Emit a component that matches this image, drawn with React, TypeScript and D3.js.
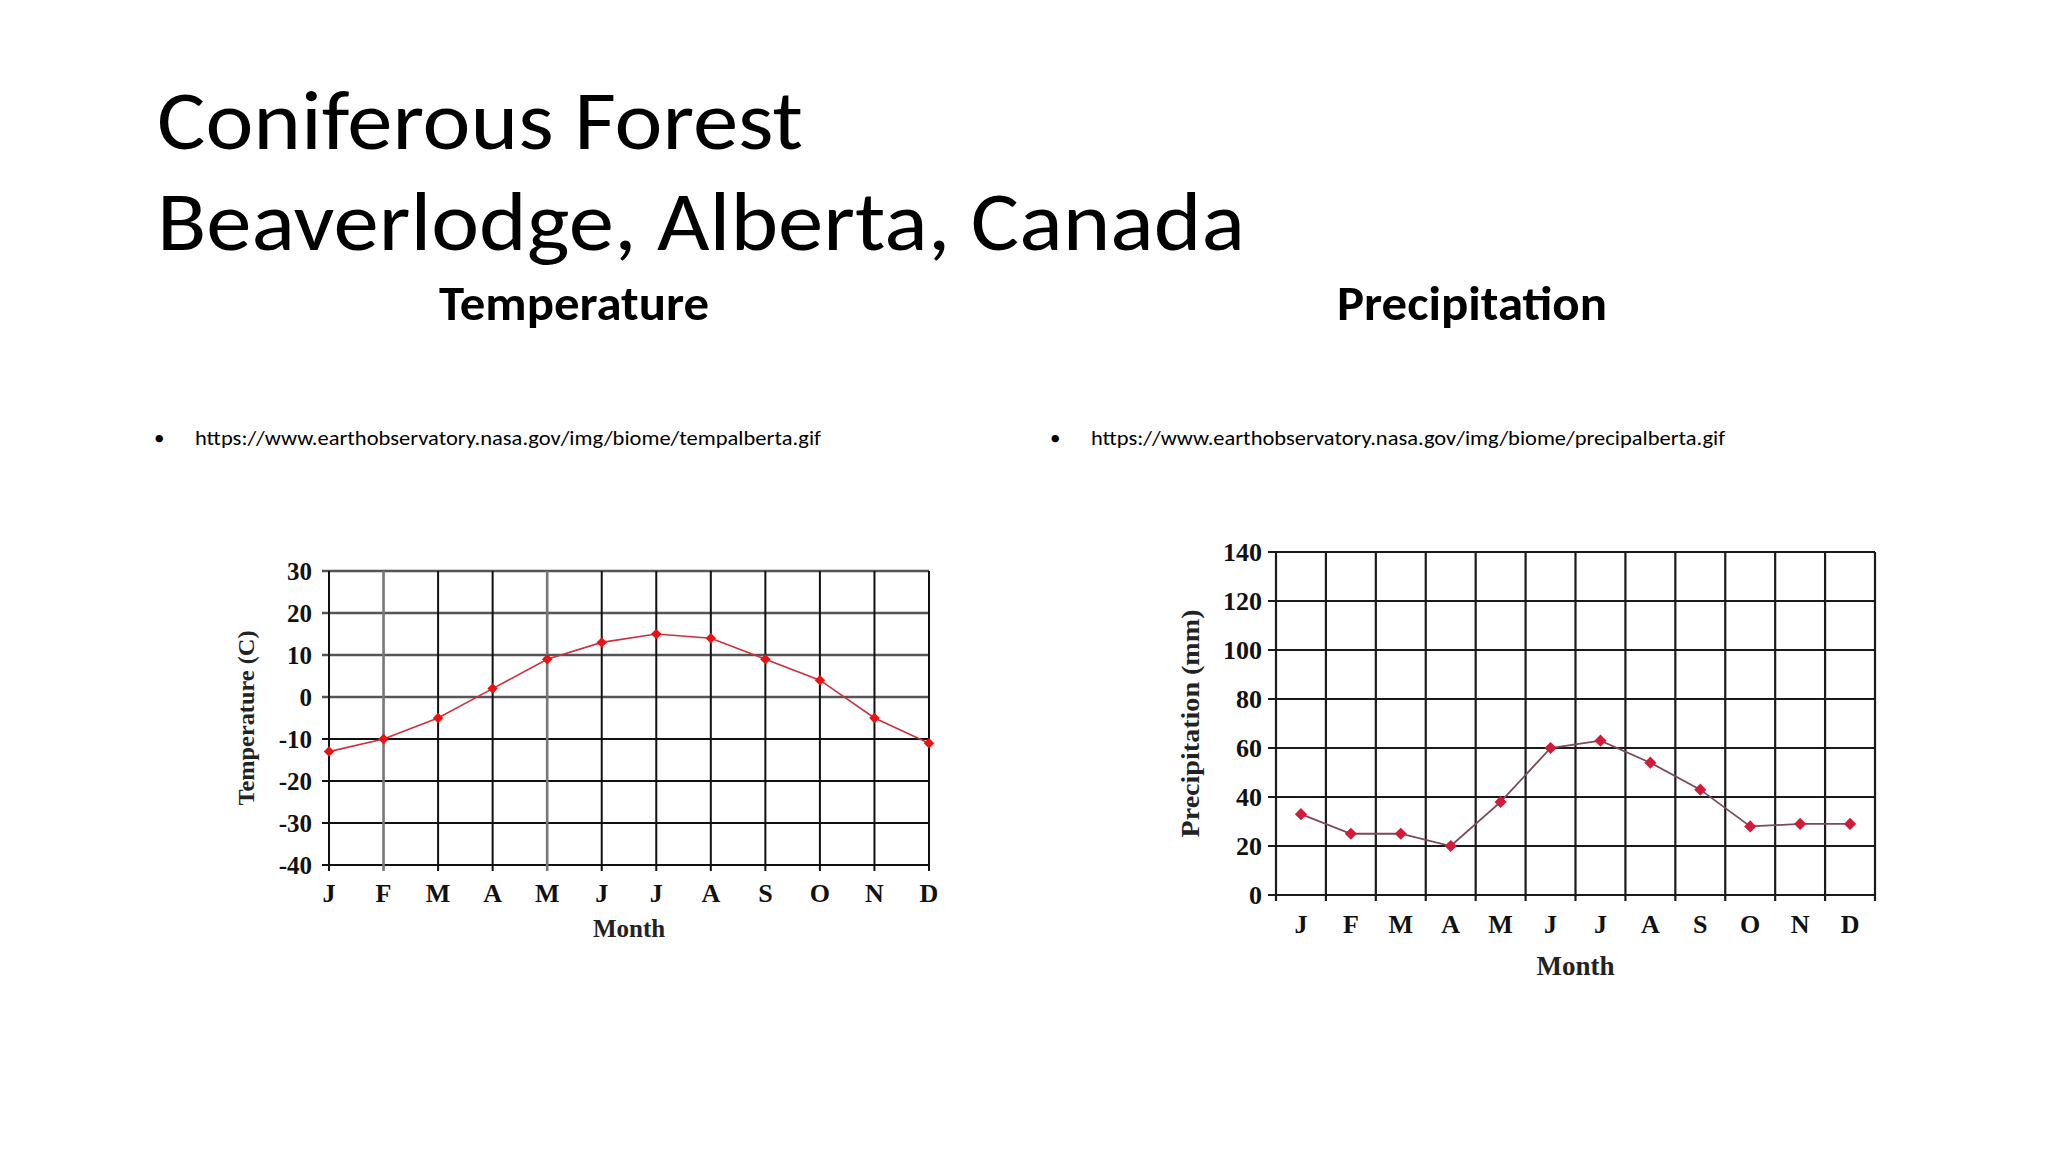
import React from "react";
import * as d3 from "d3";

const months = ["J", "F", "M", "A", "M", "J", "J", "A", "S", "O", "N", "D"];
const temperature = [-13, -10, -5, 2, 9, 13, 15, 14, 9, 4, -5, -11];
const precipitation = [33, 25, 25, 20, 38, 60, 63, 54, 43, 28, 29, 29];
const tempTicks = [30, 20, 10, 0, -10, -20, -30, -40];
const precipTicks = [140, 120, 100, 80, 60, 40, 20, 0];

const titleLines = ["Coniferous Forest", "Beaverlodge, Alberta, Canada"];
const subTitles = ["Temperature", "Precipitation"];
const urls = [
  "https://www.earthobservatory.nasa.gov/img/biome/tempalberta.gif",
  "https://www.earthobservatory.nasa.gov/img/biome/precipalberta.gif",
];

const W = 2048;
const H = 1152;
const serif = "'Liberation Serif', 'Times New Roman', serif";
const sans = "Carlito, Calibri, 'Open Sans', 'Noto Sans', sans-serif";

function TempChart() {
  const x = d3.scalePoint<number>().domain(d3.range(12)).range([329, 929]);
  const y = d3.scaleLinear().domain([-40, 30]).range([865, 571]);
  const line = d3
    .line<number>()
    .x((_, i) => x(i) as number)
    .y((d) => y(d));
  const marker = d3.symbol().type(d3.symbolDiamond2).size(70)();
  const [x0, x1] = x.range();
  return (
    <g>
      {tempTicks.map((t) => (
        <g key={"h" + t}>
          <line
            x1={x0 - 7}
            x2={x1}
            y1={y(t)}
            y2={y(t)}
            stroke={t >= 0 ? "#555" : "#111"}
            strokeWidth={t >= 0 ? 2.6 : 2}
          />
          <text
            x={312}
            y={y(t) + 9}
            textAnchor="end"
            fontFamily={serif}
            fontWeight="bold"
            fontSize={25}
            fill="#111"
          >
            {t}
          </text>
        </g>
      ))}
      {months.map((m, i) => (
        <g key={"v" + i}>
          <line
            x1={x(i)}
            x2={x(i)}
            y1={y(30)}
            y2={y(-40) + 6}
            stroke={i === 1 || i === 4 ? "#777" : "#111"}
            strokeWidth={i === 1 || i === 4 ? 2.6 : 2}
          />
          <text
            x={x(i)}
            y={902}
            textAnchor="middle"
            fontFamily={serif}
            fontWeight="bold"
            fontSize={26}
            fill="#111"
          >
            {m}
          </text>
        </g>
      ))}
      <path d={line(temperature) || ""} fill="none" stroke="#cc3040" strokeWidth={1.6} />
      {temperature.map((v, i) => (
        <path key={"p" + i} d={marker || ""} transform={`translate(${x(i)},${y(v)})`} fill="#ee1111" />
      ))}
      <text
        x={(x0 + x1) / 2}
        y={937}
        textAnchor="middle"
        fontFamily={serif}
        fontWeight="bold"
        fontSize={25}
        fill="#222"
      >
        Month
      </text>
      <text
        transform={`translate(254,${(y(30) + y(-40)) / 2}) rotate(-90)`}
        textAnchor="middle"
        fontFamily={serif}
        fontWeight="bold"
        fontSize={24}
        fill="#222"
        textLength={175}
        lengthAdjust="spacingAndGlyphs"
      >
        Temperature (C)
      </text>
    </g>
  );
}

function PrecipChart() {
  const x = d3.scaleBand<number>().domain(d3.range(12)).range([1276, 1875]);
  const y = d3.scaleLinear().domain([0, 140]).range([895, 552]);
  const cx = (i: number) => (x(i) as number) + x.bandwidth() / 2;
  const line = d3
    .line<number>()
    .x((_, i) => cx(i))
    .y((d) => y(d));
  const marker = d3.symbol().type(d3.symbolDiamond2).size(95)();
  const [x0, x1] = x.range();
  const edges = d3.range(13).map((i) => x0 + i * x.step());
  return (
    <g>
      {precipTicks.map((t) => (
        <g key={"h" + t}>
          <line x1={x0 - 8} x2={x1} y1={y(t)} y2={y(t)} stroke="#1a1a1a" strokeWidth={2.2} />
          <text
            x={1262}
            y={y(t) + 9}
            textAnchor="end"
            fontFamily={serif}
            fontWeight="bold"
            fontSize={26}
            fill="#111"
          >
            {t}
          </text>
        </g>
      ))}
      {edges.map((ex, i) => (
        <line key={"v" + i} x1={ex} x2={ex} y1={y(140)} y2={y(0) + 6} stroke="#1a1a1a" strokeWidth={2.2} />
      ))}
      {months.map((m, i) => (
        <text
          key={"m" + i}
          x={cx(i)}
          y={933}
          textAnchor="middle"
          fontFamily={serif}
          fontWeight="bold"
          fontSize={26}
          fill="#111"
        >
          {m}
        </text>
      ))}
      <path d={line(precipitation) || ""} fill="none" stroke="#7a4a55" strokeWidth={1.8} />
      {precipitation.map((v, i) => (
        <path key={"p" + i} d={marker || ""} transform={`translate(${cx(i)},${y(v)})`} fill="#d41a3a" />
      ))}
      <text
        x={(x0 + x1) / 2}
        y={975}
        textAnchor="middle"
        fontFamily={serif}
        fontWeight="bold"
        fontSize={27}
        fill="#222"
      >
        Month
      </text>
      <text
        transform={`translate(1199,${(y(0) + y(140)) / 2}) rotate(-90)`}
        textAnchor="middle"
        fontFamily={serif}
        fontWeight="bold"
        fontSize={26}
        fill="#222"
        textLength={228}
        lengthAdjust="spacingAndGlyphs"
      >
        Precipitation (mm)
      </text>
    </g>
  );
}

export default function App() {
  return (
    <div style={{ position: "absolute", left: 0, top: 0, width: W, height: H, background: "#fff" }}>
      <svg width={W} height={H} viewBox={`0 0 ${W} ${H}`} style={{ display: "block" }}>
        <rect x={0} y={0} width={W} height={H} fill="#ffffff" />
        <text
          x={157}
          y={149}
          fontFamily={sans}
          fontWeight={300}
          fontSize={84}
          fill="#000"
          textLength={646}
          lengthAdjust="spacingAndGlyphs"
        >
          {titleLines[0]}
        </text>
        <text
          x={157}
          y={250}
          fontFamily={sans}
          fontWeight={300}
          fontSize={84}
          fill="#000"
          textLength={1088}
          lengthAdjust="spacingAndGlyphs"
        >
          {titleLines[1]}
        </text>
        <text
          x={574}
          y={320}
          textAnchor="middle"
          fontFamily={sans}
          fontWeight="bold"
          fontSize={48}
          fill="#000"
          textLength={270}
          lengthAdjust="spacingAndGlyphs"
        >
          {subTitles[0]}
        </text>
        <text
          x={1472}
          y={320}
          textAnchor="middle"
          fontFamily={sans}
          fontWeight="bold"
          fontSize={48}
          fill="#000"
          textLength={270}
          lengthAdjust="spacingAndGlyphs"
        >
          {subTitles[1]}
        </text>
        <text x={154} y={445} fontFamily={sans} fontSize={21} fill="#000">
          •
        </text>
        <text
          x={195}
          y={445}
          fontFamily={sans}
          fontSize={21}
          fill="#000"
          textLength={626}
          lengthAdjust="spacingAndGlyphs"
        >
          {urls[0]}
        </text>
        <text x={1050} y={445} fontFamily={sans} fontSize={21} fill="#000">
          •
        </text>
        <text
          x={1091}
          y={445}
          fontFamily={sans}
          fontSize={21}
          fill="#000"
          textLength={634}
          lengthAdjust="spacingAndGlyphs"
        >
          {urls[1]}
        </text>
        <TempChart />
        <PrecipChart />
      </svg>
    </div>
  );
}
